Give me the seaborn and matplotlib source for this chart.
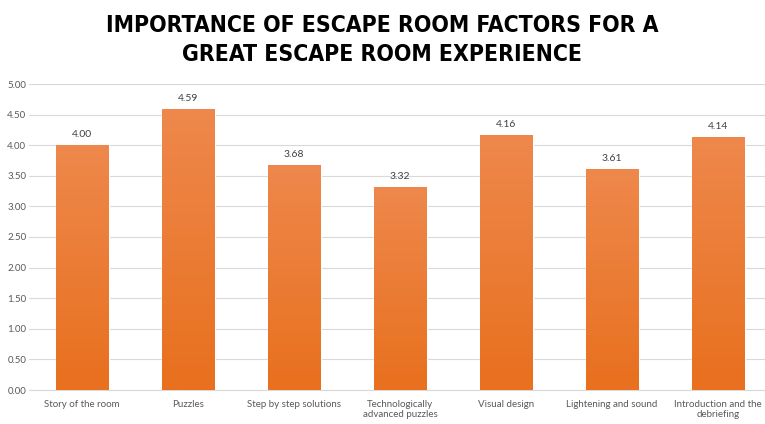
import numpy as np
import pandas as pd
import matplotlib
matplotlib.use("Agg")
import matplotlib.pyplot as plt
from matplotlib.colors import LinearSegmentedColormap
import seaborn as sns

categories = ["Story of the room", "Puzzles", "Step by step solutions",
              "Technologically\nadvanced puzzles", "Visual design",
              "Lightening and sound", "Introduction and the\ndebriefing"]
scores = [4.00, 4.59, 3.68, 3.32, 4.16, 3.61, 4.14]
yticks = [0.0, 0.5, 1.0, 1.5, 2.0, 2.5, 3.0, 3.5, 4.0, 4.5, 5.0]
title = "IMPORTANCE OF ESCAPE ROOM FACTORS FOR A\nGREAT ESCAPE ROOM EXPERIENCE"

sns.set_style("white")
plt.rcParams["font.family"] = ["Lato", "DejaVu Sans"]

df = pd.DataFrame({"factor": categories, "score": scores})

fig = plt.figure(figsize=(7.65, 4.24), dpi=100)
ax = fig.add_axes([29 / 765, 34 / 424, 742 / 765, 306 / 424])

sns.barplot(data=df, x="factor", y="score", color="#ED7D31", width=0.5,
            ax=ax, zorder=2)

# vertical gradient in each bar, like the Excel fill
grad = LinearSegmentedColormap.from_list("og", ["#E8701E", "#EE884C"])
g = np.linspace(0, 1, 256).reshape(-1, 1)
for p in ax.patches:
    x0, w, h = p.get_x(), p.get_width(), p.get_height()
    im = ax.imshow(g, cmap=grad, origin="lower", aspect="auto",
                   extent=[x0, x0 + w, 0, h], zorder=3)
    im.set_clip_path(p)
    ax.text(x0 + w / 2, h + 0.1, f"{h:.2f}", ha="center", va="bottom",
            fontsize=7.5, color="#404040")

ax.set_xlim(-0.5, len(categories) - 0.5)
ax.set_ylim(0, 5)
ax.set_yticks(yticks)
ax.set_yticklabels([f"{v:.2f}" for v in yticks])
ax.yaxis.grid(True, color="#D9D9D9", linewidth=0.8, zorder=0)
ax.set_axisbelow(True)
for s in ["top", "right", "left"]:
    ax.spines[s].set_visible(False)
ax.spines["bottom"].set_color("#D9D9D9")
ax.tick_params(axis="both", length=0, labelsize=7, colors="#595959")
ax.tick_params(axis="y", pad=2)
ax.tick_params(axis="x", pad=7)
ax.set_xlabel("")
ax.set_ylabel("")

fig.text(0.5, 0.906, title, ha="center", va="center", fontsize=16.5,
         fontweight="heavy", family=["DejaVu Sans"], stretch="condensed",
         linespacing=1.35, color="black")

fig.savefig("out.png", dpi=100)
